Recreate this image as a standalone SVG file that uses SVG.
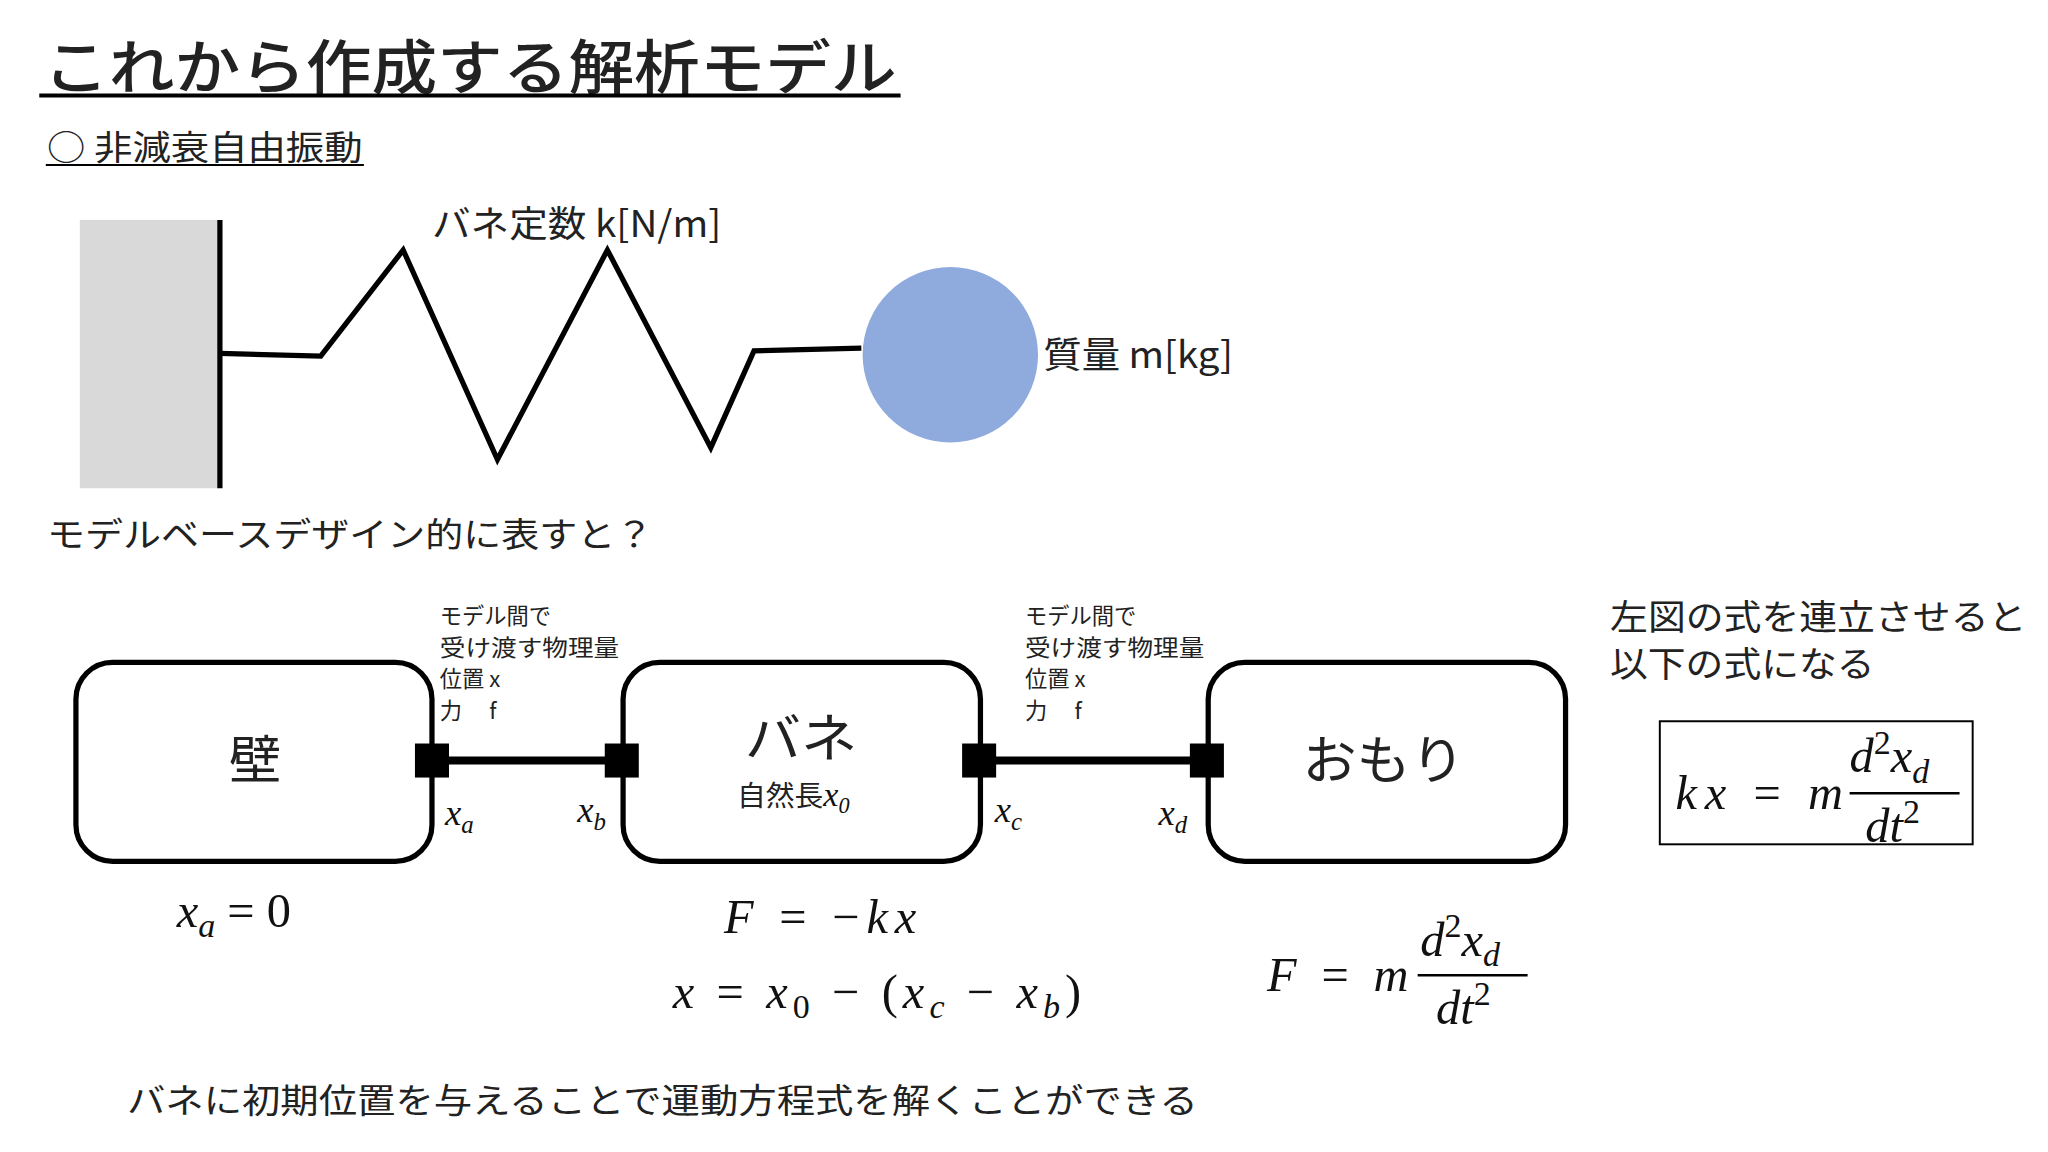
<svg xmlns="http://www.w3.org/2000/svg" width="2048" height="1152" viewBox="0 0 2048 1152">
<style>
.j{font-family:"Noto Sans CJK JP","Noto Sans",sans-serif;fill:#222}
.m{font-family:"Liberation Serif",serif;font-style:italic;fill:#111}
.box{fill:#fff;stroke:#000;stroke-width:4}
</style>
<rect width="2048" height="1152" fill="#fff"/>
<g transform="scale(1.309)">
<g id="title">
<text class="j" x="33" y="68" font-size="45" font-weight="500" textLength="652" lengthAdjust="spacingAndGlyphs">これから作成する解析モデル</text>
<line x1="30" y1="73" x2="688" y2="73" stroke="#000" stroke-width="3"/>
<text class="j" x="36" y="122" font-size="26" textLength="241" lengthAdjust="spacingAndGlyphs">○ 非減衰自由振動</text>
<line x1="35" y1="126" x2="278" y2="126" stroke="#000" stroke-width="1.5"/>
</g>
<g id="physical">
<rect x="61" y="168" width="106" height="205" fill="#d9d9d9"/>
<line x1="168" y1="168" x2="168" y2="373" stroke="#000" stroke-width="4"/>
<polyline points="168,270 245,272 308,191 380,351 464,191 543,342 576,268 658,266" fill="none" stroke="#000" stroke-width="4"/>
<circle cx="726" cy="271" r="67" fill="#8faadc"/>
<text class="j" x="330" y="181" font-size="28" textLength="221" lengthAdjust="spacingAndGlyphs">バネ定数 k[N/m]</text>
<text class="j" x="797" y="281" font-size="28" textLength="145" lengthAdjust="spacingAndGlyphs">質量 m[kg]</text>
<text class="j" x="36" y="418" font-size="26" textLength="463" lengthAdjust="spacingAndGlyphs">モデルベースデザイン的に表すと？</text>
</g>
<g id="connectors" stroke="#000" stroke-width="6">
<line x1="330" y1="581" x2="475" y2="581"/>
<line x1="748" y1="581" x2="922" y2="581"/>
</g>
<g id="wall"><rect class="box" x="58" y="506" width="272" height="152" rx="28"/>
<text class="j" x="195" y="595" font-size="40" text-anchor="middle">壁</text></g>
<g id="spring"><rect class="box" x="476" y="506" width="273" height="152" rx="28"/>
<text class="j" x="612" y="578" font-size="40" text-anchor="middle" textLength="86" lengthAdjust="spacingAndGlyphs">バネ</text>
<text class="j" x="563" y="616" font-size="22">自然長<tspan class="m" font-size="26">x</tspan><tspan class="m" font-size="17" dy="5" font-style="normal">0</tspan></text></g>
<g id="mass"><rect class="box" x="923" y="506" width="273" height="152" rx="28"/>
<text class="j" x="1057" y="595" font-size="40" text-anchor="middle" textLength="124" lengthAdjust="spacingAndGlyphs">おもり</text></g>
<g id="ports" fill="#000">
<rect x="317" y="568" width="26" height="26"/><rect x="462" y="568" width="26" height="26"/>
<rect x="735" y="568" width="26" height="26"/><rect x="909" y="568" width="26" height="26"/>
</g>
<g id="labels" class="j" font-size="17">
<text x="336" y="477">モデル間で</text><text x="336" y="501" textLength="137" lengthAdjust="spacingAndGlyphs">受け渡す物理量</text><text x="336" y="525">位置 x</text><text x="336" y="549">力　 f</text>
<text x="783" y="477">モデル間で</text><text x="783" y="501" textLength="137" lengthAdjust="spacingAndGlyphs">受け渡す物理量</text><text x="783" y="525">位置 x</text><text x="783" y="549">力　 f</text>
</g>
<g id="portlabels" class="m" font-size="28">
<text x="340" y="630">x<tspan font-size="19" dy="6">a</tspan></text>
<text x="441" y="628">x<tspan font-size="19" dy="6">b</tspan></text>
<text x="760" y="628">x<tspan font-size="19" dy="6">c</tspan></text>
<text x="885" y="630">x<tspan font-size="19" dy="6">d</tspan></text>
</g>
<g id="equations" class="m" font-size="37">
<text x="135" y="708">x<tspan font-size="26" dy="8">a</tspan><tspan dy="-8" font-style="normal"> = 0</tspan></text>
<text x="553" y="713" textLength="147" lengthAdjust="spacing">F <tspan font-style="normal">= −</tspan>kx</text>
<text x="514" y="770" textLength="312" lengthAdjust="spacing">x <tspan font-style="normal">=</tspan> x<tspan font-size="26" dy="8" font-style="normal">0</tspan><tspan dy="-8" font-style="normal"> − (</tspan>x<tspan font-size="26" dy="8">c</tspan><tspan dy="-8" font-style="normal"> − </tspan>x<tspan font-size="26" dy="8">b</tspan><tspan dy="-8" font-style="normal">)</tspan></text>
<text x="968" y="757" textLength="108" lengthAdjust="spacing">F <tspan font-style="normal">=</tspan> m</text>
<text x="1085" y="730">d<tspan font-size="26" dy="-14" font-style="normal">2</tspan><tspan dy="14">x</tspan><tspan font-size="26" dy="8">d</tspan></text>
<line x1="1083" y1="745" x2="1167" y2="745" stroke="#000" stroke-width="2"/>
<text x="1097" y="782">dt<tspan font-size="26" dy="-14" font-style="normal">2</tspan></text>
</g>
<g id="result">
<text class="j" x="1230" y="481" font-size="27" textLength="318" lengthAdjust="spacingAndGlyphs">左図の式を連立させると</text>
<text class="j" x="1230" y="517" font-size="27" textLength="202" lengthAdjust="spacingAndGlyphs">以下の式になる</text>
<rect x="1268" y="551" width="239" height="94" fill="none" stroke="#000" stroke-width="1.5"/>
<g class="m" font-size="37">
<text x="1280" y="618" textLength="128" lengthAdjust="spacing">kx <tspan font-style="normal">=</tspan> m</text>
<text x="1413" y="590">d<tspan font-size="26" dy="-14" font-style="normal">2</tspan><tspan dy="14">x</tspan><tspan font-size="26" dy="8">d</tspan></text>
<line x1="1413" y1="606" x2="1497" y2="606" stroke="#000" stroke-width="2"/>
<text x="1425" y="643">dt<tspan font-size="26" dy="-14" font-style="normal">2</tspan></text>
</g>
</g>
<text class="j" x="97" y="850" font-size="26" textLength="818" lengthAdjust="spacingAndGlyphs">バネに初期位置を与えることで運動方程式を解くことができる</text>
</g>
</svg>
